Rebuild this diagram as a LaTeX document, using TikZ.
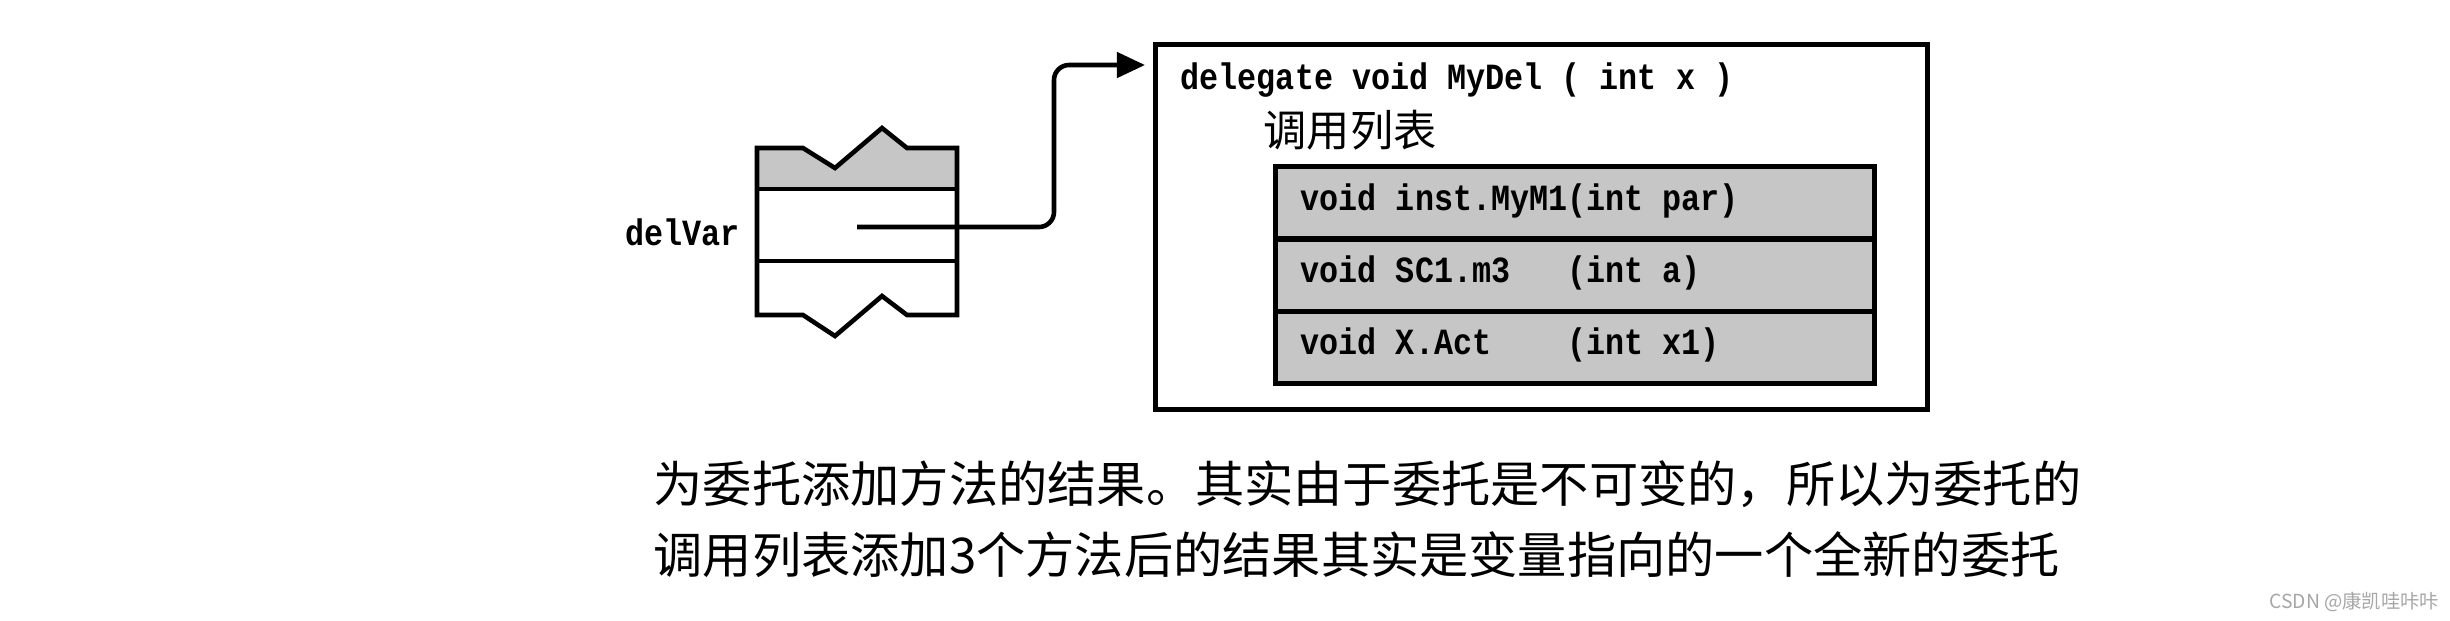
\documentclass[tikz,border=0pt]{standalone}
\usepackage{fontspec}
\setmonofont{Liberation Mono}
\newfontfamily\cjk{Noto Sans CJK SC}
\usetikzlibrary{arrows.meta}
\newcommand{\cd}[1]{\scalebox{0.86}[1]{\ttfamily\bfseries\fontsize{10.5pt}{12pt}\selectfont #1}}
\tikzset{
  thick line/.style={line width=1.3pt},
  codetxt/.style={anchor=west, inner sep=0pt},
  row/.style={draw, line width=1.3pt, fill=gray!45, minimum width=5.99cm, minimum height=0.72cm, anchor=north west, inner sep=0pt},
  captxt/.style={anchor=west, inner sep=0pt, font=\cjk\fontsize{14pt}{16pt}\selectfont},
}
\begin{document}
\begin{tikzpicture}[x=0.01cm,y=-0.01cm]
\useasboundingbox (0,0) rectangle (2450,620);
% stack
\fill[gray!45] (757,148) -- (803,148) -- (835,168) -- (882,128) -- (907,148) -- (957,148) -- (957,189) -- (757,189) -- cycle;
\draw[thick line] (757,189) -- (757,148) -- (803,148) -- (835,168) -- (882,128) -- (907,148) -- (957,148) -- (957,189);
\draw[thick line] (757,189) -- (957,189);
\draw[thick line] (757,261) -- (957,261);
\draw[thick line] (757,189) -- (757,315) -- (803,315) -- (835,336) -- (882,296) -- (907,315) -- (957,315) -- (957,189);
\node[codetxt] (dv) at (625,232) {\cd{delVar}};
\coordinate (ptr) at (857,227);
% big box
\node[draw, line width=1.3pt, minimum width=7.72cm, minimum height=3.65cm, anchor=north west, inner sep=0pt] (delbox) at (1153,42) {};
\coordinate (tip) at (1145,65);
\draw[thick line, rounded corners=0.15cm, -{Triangle[length=0.28cm,width=0.25cm]}] (ptr) -- (1054,227) -- (1054,65) -- (tip);
\node[codetxt] (title) at (1180,80) {\cd{delegate void MyDel ( int x )}};
\node[anchor=west, inner sep=0pt, font=\cjk\fontsize{12.3pt}{14pt}\selectfont] (il) at (1263,130) {调用列表};
\node[row] (r1) at (1273,164) {};
\node[row] (r2) at (1273,237) {};
\node[row] (r3) at (1273,309) {};
\node[codetxt] (t1) at (1300,201) {\cd{void inst.MyM1(int par)}};
\node[codetxt] (t2) at (1300,273) {\cd{void SC1.m3\ \ \ (int a)}};
\node[codetxt] (t3) at (1300,345) {\cd{void X.Act\ \ \ \ (int x1)}};
% caption
\node[captxt] (c1) at (653,484) {为委托添加方法的结果。其实由于委托是不可变的，所以为委托的};
\node[captxt] (c2) at (653,555) {调用列表添加3个方法后的结果其实是变量指向的一个全新的委托};
\node[anchor=east, inner sep=0pt, text=gray!70, font=\cjk\fontsize{5.5pt}{6pt}\selectfont] (wm) at (2440,602) {CSDN @康凯哇咔咔};
\end{tikzpicture}
\end{document}
